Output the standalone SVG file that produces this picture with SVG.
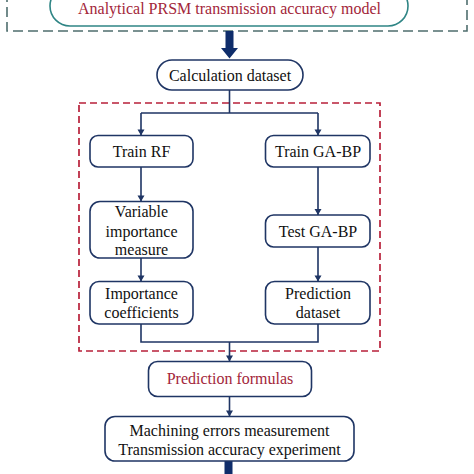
<svg xmlns="http://www.w3.org/2000/svg" width="474" height="474" viewBox="0 0 474 474">
<defs>
<style>
.t{font-family:"Liberation Serif","Times New Roman",serif;font-size:16px;fill:#111;text-anchor:middle}
.r{fill:#a3263a}
.box{fill:#fff;stroke:#1f3564;stroke-width:1.6}
.ln{fill:none;stroke:#1f3564;stroke-width:1.6}
</style>
</defs>
<rect width="474" height="474" fill="#fff"/>
<g id="frames">
<rect x="7" y="-10" width="460" height="41" fill="none" stroke="#4f6e6e" stroke-width="1.6" stroke-dasharray="10,5"/>
<rect x="79" y="103" width="301" height="248" fill="none" stroke="#b8203a" stroke-width="1.7" stroke-dasharray="7,4"/>
</g>
<g id="connectors">
<path d="M225.5,31 V48 H221 L229.5,58.5 L238,48 H233.5 V31 Z" fill="#0f2d6b"/>
<rect x="224.5" y="461" width="8" height="13" fill="#0f2d6b"/>
<path class="ln" d="M229.5,90 V113 M141,113 H318 M141,113 V135.5 M318,113 V135.5"/>
<path class="ln" d="M141,167 V201.5 M141,258 V281.5 M318,167 V215 M318,247 V281.5"/>
<path class="ln" d="M141,324 V342 H318 V324 M229.5,342 V361.5 M229.5,396.5 V416.5"/>
<path d="M137.5,129.5 L144.5,129.5 L141,135.5 Z M314.5,129.5 L321.5,129.5 L318,135.5 Z M137.5,195.5 L144.5,195.5 L141,201.5 Z M314.5,209 L321.5,209 L318,215 Z M137.5,275.5 L144.5,275.5 L141,281.5 Z M314.5,275.5 L321.5,275.5 L318,281.5 Z M226,355.5 L233,355.5 L229.5,361.5 Z M226,410.5 L233,410.5 L229.5,416.5 Z" fill="#1f3564"/>
</g>
<g id="n-model">
<rect x="50" y="-14" width="358" height="40" rx="20" fill="#fff" stroke="#2f8585" stroke-width="1.6"/>
<text class="t r" x="229.5" y="14">Analytical PRSM transmission accuracy model</text>
</g>
<g id="n-calc">
<rect class="box" x="157" y="60" width="146" height="30" rx="15"/>
<text class="t" x="230" y="80.5">Calculation dataset</text>
</g>
<g id="n-trainrf">
<rect class="box" x="90" y="135.5" width="103" height="31.5" rx="8"/>
<text class="t" x="141.5" y="157">Train RF</text>
</g>
<g id="n-traingabp">
<rect class="box" x="265.5" y="135.5" width="104.5" height="31.5" rx="8"/>
<text class="t" x="318" y="157">Train GA-BP</text>
</g>
<g id="n-vim">
<rect class="box" x="90" y="201.5" width="103" height="56.5" rx="10"/>
<text class="t" x="141.5" y="217">Variable</text>
<text class="t" x="141.5" y="236.5">importance</text>
<text class="t" x="141.5" y="255">measure</text>
</g>
<g id="n-testgabp">
<rect class="box" x="265.5" y="215" width="104.5" height="32" rx="8"/>
<text class="t" x="318" y="237">Test GA-BP</text>
</g>
<g id="n-coef">
<rect class="box" x="90" y="281.5" width="103" height="42.5" rx="9"/>
<text class="t" x="141.5" y="298.5">Importance</text>
<text class="t" x="141.5" y="317.5">coefficients</text>
</g>
<g id="n-preddata">
<rect class="box" x="265.5" y="281.5" width="104.5" height="42.5" rx="9"/>
<text class="t" x="318" y="298.5">Prediction</text>
<text class="t" x="318" y="317.5">dataset</text>
</g>
<g id="n-formulas">
<rect class="box" x="148.5" y="361.5" width="163" height="35" rx="9"/>
<text class="t r" x="230" y="384">Prediction formulas</text>
</g>
<g id="n-exp">
<rect class="box" x="105" y="416.5" width="249" height="44.5" rx="10"/>
<text class="t" x="229.5" y="435.5">Machining errors measurement</text>
<text class="t" x="229.5" y="454.5">Transmission accuracy experiment</text>
</g>
</svg>
